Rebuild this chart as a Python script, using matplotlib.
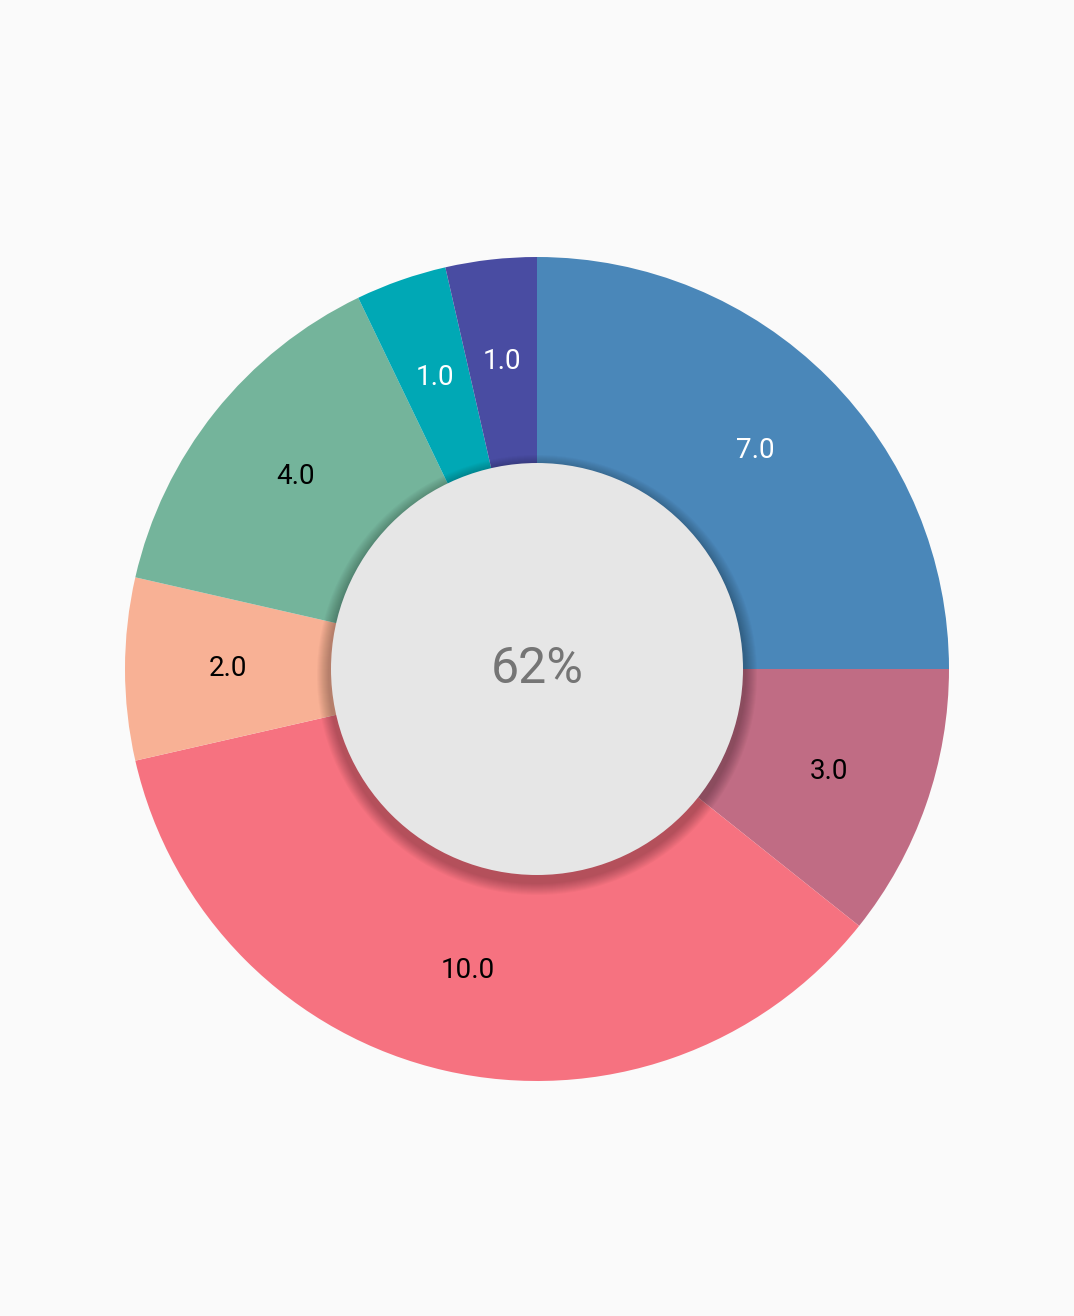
import matplotlib.pyplot as plt
import matplotlib.patches as mpatch

plt.rcParams['font.family'] = ['Roboto', 'DejaVu Sans']

values = [7, 3, 10, 2, 4, 1, 1]
labels = ['7.0', '3.0', '10.0', '2.0', '4.0', '1.0', '1.0']
colors = ['#4A87B9', '#C06C84', '#F67280', '#F8B195', '#74B49B', '#00A8B5', '#494CA2']
label_colors = ['white', 'black', 'black', 'black', 'black', 'white', 'white']
center_text = '62%'

W, H = 1074, 1316
cx, cy, R = 537, H - 669, 412

fig = plt.figure(figsize=(W / 100, H / 100), dpi=100, facecolor='#FAFAFA')
ax = fig.add_axes([0, 0, 1, 1])

wedges, texts = ax.pie(values, colors=colors, labels=labels, labeldistance=0.75,
                       startangle=90, counterclock=False, center=(cx, cy), radius=R,
                       wedgeprops=dict(linewidth=0), textprops=dict(fontsize=20))
for t, c in zip(texts, label_colors):
    t.set_color(c)
    t.set_ha('center')
    t.set_va('center')

# soft shadow under the center hole
for i in range(12):
    ax.add_patch(mpatch.Circle((cx, cy - 6), 206 + 14 - i, color='black',
                               alpha=0.025, linewidth=0, zorder=3))
ax.add_patch(mpatch.Circle((cx, cy), 206, color='#E6E6E6', linewidth=0, zorder=4))
ax.text(cx, cy, center_text, fontsize=36, color='#757575', ha='center', va='center', zorder=5)

# pie() resets the view, so fix the limits afterwards
ax.set_xlim(0, W)
ax.set_ylim(0, H)
ax.set_aspect('equal')
ax.axis('off')

fig.savefig('out.png', dpi=100, facecolor=fig.get_facecolor())
